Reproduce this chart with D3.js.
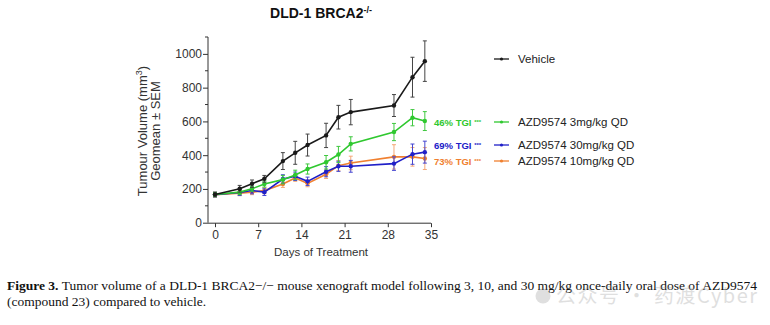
<!DOCTYPE html>
<html>
<head>
<meta charset="utf-8">
<script src="https://cdn.jsdelivr.net/npm/d3@7"></script>
<style>
  body { margin: 0; background: #fff; }
  svg { display: block; }
  .tick text { font-family: "Liberation Sans", Arial, sans-serif; font-size: 12px; fill: #333; }
  .tick line, .domain { stroke: #333; }
</style>
</head>
<body>
<div id="chart"></div>
<script>
// Study days and geomean tumour volume (mm3) with SEM per group
const days = [0, 4, 6, 8, 11, 13, 15, 18, 20, 22, 29, 32, 34];
const vehicle = [167, 201, 231, 260, 365, 414, 460, 517, 625, 655, 694, 862, 957];
const vehicleSem = [15, 20, 22, 20, 50, 68, 65, 72, 70, 75, 65, 118, 120];
const dose3 = [167, 181, 201, 229, 255, 283, 318, 358, 404, 467, 537, 622, 602];
const dose3Sem = [12, 15, 15, 18, 25, 28, 30, 40, 48, 42, 51, 48, 56];
const dose30 = [166, 179, 191, 181, 259, 275, 245, 302, 334, 334, 350, 406, 418];
const dose30Sem = [12, 18, 20, 20, 25, 25, 25, 30, 30, 35, 40, 60, 65];
const dose10 = [166, 175, 181, 190, 229, 265, 233, 287, 338, 354, 390, 390, 380];
const dose10Sem = [12, 15, 15, 18, 20, 20, 20, 25, 30, 40, 72, 55, 65];

const seriesNames = ["Vehicle", "AZD9574 3mg/kg QD", "AZD9574 30mg/kg QD", "AZD9574 10mg/kg QD"];
const tgiLabels = [null, "46% TGI", "69% TGI", "73% TGI"];
const xTicks = [0, 7, 14, 21, 28, 35];
const yTicks = [0, 200, 400, 600, 800, 1000];

const width = 770, height = 325;
const svg = d3.select("#chart").append("svg")
  .attr("width", width)
  .attr("height", height);

const x = d3.scaleLinear().domain([0, 35]).range([215, 431]);
const y = d3.scaleLinear().domain([0, 1100]).range([222.7, 37]);
const yAxisX = 208;

const series = [
  { name: seriesNames[0], values: vehicle, sem: vehicleSem, color: "#1a1a1a", bar: "#444", tgi: tgiLabels[0], ly: 59 },
  { name: seriesNames[1], values: dose3, sem: dose3Sem, color: "#2fc82f", bar: "#3fc83f", tgi: tgiLabels[1], ly: 122 },
  { name: seriesNames[2], values: dose30, sem: dose30Sem, color: "#2020c8", bar: "#4545d0", tgi: tgiLabels[2], ly: 145 },
  { name: seriesNames[3], values: dose10, sem: dose10Sem, color: "#f08030", bar: "#f4a878", tgi: tgiLabels[3], ly: 161 }
];

// Title with superscript genotype
const title = svg.append("text")
  .attr("x", 321)
  .attr("y", 18)
  .attr("text-anchor", "middle")
  .style("font-family", "Liberation Sans, Arial, sans-serif")
  .style("font-weight", "bold")
  .style("font-size", "14px")
  .style("fill", "#111");
title.append("tspan").text("DLD-1 BRCA2");
title.append("tspan").attr("dy", -5).style("font-size", "9px").text("-/-");

// Y axis with minor ticks every 100
const yAxis = svg.append("g")
  .attr("transform", `translate(${yAxisX},0)`)
  .call(d3.axisLeft(y).tickValues(yTicks).tickFormat(d3.format("d"))
    .tickSize(5).tickSizeOuter(0).tickPadding(1));
yAxis.select(".domain").attr("d", `M0,${y(1100)}V${y(0)}`);
yAxis.selectAll(".minor")
  .data(d3.range(100, 1101, 200))
  .enter().append("line")
  .attr("class", "minor")
  .attr("x1", -3).attr("x2", 0)
  .attr("y1", d => y(d)).attr("y2", d => y(d))
  .attr("stroke", "#333");

// X axis, the line runs from the y axis to day 35
const xAxis = svg.append("g")
  .attr("transform", `translate(0,${y(0) + 0.5})`)
  .call(d3.axisBottom(x).tickValues(xTicks).tickSize(4).tickSizeOuter(0).tickPadding(3));
xAxis.select(".domain").attr("d", `M${yAxisX},0H${x(35)}`);

// Axis titles
const yLab = svg.append("text")
  .attr("transform", "translate(147,131) rotate(-90)")
  .attr("text-anchor", "middle")
  .style("font-family", "Liberation Sans, Arial, sans-serif")
  .style("font-size", "13px")
  .style("fill", "#333");
yLab.append("tspan").attr("x", 0).attr("dy", 0).text("Tumour Volume (mm");
yLab.append("tspan").attr("dy", -5).style("font-size", "9px").text("3");
yLab.append("tspan").attr("dy", 5).text(")");
yLab.append("tspan").attr("x", 0).attr("dy", 13).text("Geomean \u00b1 SEM");

svg.append("text")
  .attr("x", 321)
  .attr("y", 256)
  .attr("text-anchor", "middle")
  .style("font-family", "Liberation Sans, Arial, sans-serif")
  .style("font-size", "11.5px")
  .style("fill", "#333")
  .text("Days of Treatment");

// Series drawn back to front
const line = d3.line().x(d => x(d.day)).y(d => y(d.v));
const drawOrder = [3, 2, 1, 0];
drawOrder.forEach(i => {
  const s = series[i];
  const pts = days.map((day, j) => ({ day, v: s.values[j], e: s.sem[j] }));
  const g = svg.append("g");

  const bars = g.selectAll(".err").data(pts).enter().append("g")
    .attr("stroke", s.bar).attr("stroke-width", 1);
  bars.append("line")
    .attr("x1", d => x(d.day)).attr("x2", d => x(d.day))
    .attr("y1", d => y(d.v - d.e)).attr("y2", d => y(d.v + d.e));
  bars.append("line")
    .attr("x1", d => x(d.day) - 2).attr("x2", d => x(d.day) + 2)
    .attr("y1", d => y(d.v + d.e)).attr("y2", d => y(d.v + d.e));
  bars.append("line")
    .attr("x1", d => x(d.day) - 2).attr("x2", d => x(d.day) + 2)
    .attr("y1", d => y(d.v - d.e)).attr("y2", d => y(d.v - d.e));

  g.append("path")
    .datum(pts)
    .attr("d", line)
    .attr("fill", "none")
    .attr("stroke", s.color)
    .attr("stroke-width", 1.6);

  g.selectAll("circle").data(pts).enter().append("circle")
    .attr("cx", d => x(d.day))
    .attr("cy", d => y(d.v))
    .attr("r", 2.2)
    .attr("fill", s.color);
});

// Legend with TGI annotations
const legend = svg.append("g");
series.forEach(s => {
  legend.append("line")
    .attr("x1", 494).attr("x2", 509)
    .attr("y1", s.ly).attr("y2", s.ly)
    .attr("stroke", s.color).attr("stroke-width", 1.3);
  legend.append("circle")
    .attr("cx", 501.5).attr("cy", s.ly).attr("r", 1.6)
    .attr("fill", s.color);
  legend.append("text")
    .attr("x", 518).attr("y", s.ly + 4)
    .style("font-family", "Liberation Sans, Arial, sans-serif")
    .style("font-size", "11.5px")
    .style("fill", "#222")
    .text(s.name);
  if (s.tgi) {
    const t = legend.append("text")
      .attr("x", 434).attr("y", s.ly + 3.5)
      .style("font-family", "Liberation Sans, Arial, sans-serif")
      .style("font-weight", "bold")
      .style("font-size", "9.5px")
      .style("fill", s.color);
    t.append("tspan").text(s.tgi + " ");
    t.append("tspan").attr("dy", -2).style("font-size", "6px").text("***");
  }
});

// Figure caption
const cap = svg.append("g")
  .style("font-family", "Liberation Serif, 'Times New Roman', serif")
  .style("font-size", "13.5px")
  .style("fill", "#111");
const c1 = cap.append("text").attr("x", 7).attr("y", 290);
c1.append("tspan").style("font-weight", "bold").text("Figure 3.");
c1.append("tspan").text(" Tumor volume of a DLD-1 BRCA2\u2212/\u2212 mouse xenograft model following 3, 10, and 30 mg/kg once-daily oral dose of AZD9574");
cap.append("text").attr("x", 7).attr("y", 306)
  .text("(compound 23) compared to vehicle.");

// Faint channel watermark over the caption
const wm = svg.append("g").attr("opacity", 0.3);
wm.append("circle").attr("cx", 543).attr("cy", 296).attr("r", 7.5).attr("fill", "#999");
wm.append("text")
  .attr("x", 556).attr("y", 303)
  .style("font-family", "'Noto Sans CJK SC', sans-serif")
  .style("font-size", "20px")
  .style("letter-spacing", "1.5px")
  .style("fill", "#999")
  .text("公众号 · 药渡Cyber");
</script>
</body>
</html>
